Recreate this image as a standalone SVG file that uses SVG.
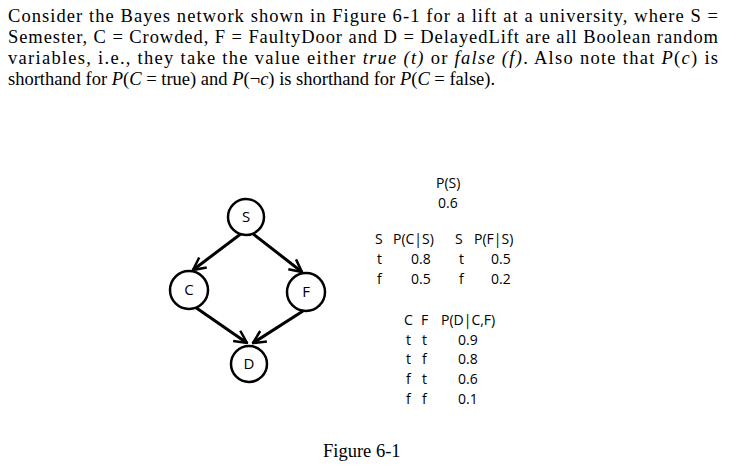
<svg xmlns="http://www.w3.org/2000/svg" width="737" height="469" viewBox="0 0 737 469">
<defs>
<style>
.p{font-family:"Liberation Serif",serif;font-size:18.5px;fill:#000}
.i{font-style:italic}
.s{font-family:"Open Sans","Liberation Sans",sans-serif;font-size:14px;fill:#000}
.n{font-family:"Open Sans","Liberation Sans",sans-serif;font-size:15px;fill:#000;text-anchor:middle}
circle{fill:#fff;stroke:#000;stroke-width:2.5}
.e{stroke:#000;stroke-width:3;fill:none;marker-end:url(#a)}
</style>
<marker id="a" viewBox="0 0 12 12" refX="11" refY="6" markerWidth="5" markerHeight="5" orient="auto" markerUnits="strokeWidth">
<path d="M1,1 L11,6 L1,11" fill="none" stroke="#000" stroke-width="2"/>
</marker>
</defs>
<rect width="737" height="469" fill="#fff"/>
<text class="p" x="8" y="22" textLength="710" lengthAdjust="spacing">Consider the Bayes network shown in Figure 6-1 for a lift at a university, where S =</text>
<text class="p" x="8" y="43" textLength="710" lengthAdjust="spacing">Semester, C = Crowded, F = FaultyDoor and D = DelayedLift are all Boolean random</text>
<text class="p" x="8" y="64" textLength="710" lengthAdjust="spacing">variables, i.e., they take the value either <tspan class="i">true (t)</tspan> or <tspan class="i">false (f)</tspan>. Also note that <tspan class="i">P</tspan>(<tspan class="i">c</tspan>) is</text>
<text class="p" x="8" y="85">shorthand for <tspan class="i">P</tspan>(<tspan class="i">C</tspan> = true) and <tspan class="i">P</tspan>(¬<tspan class="i">c</tspan>) is shorthand for <tspan class="i">P</tspan>(<tspan class="i">C</tspan> = false).</text>
<g id="edges">
<line class="e" x1="242" y1="233" x2="193" y2="270"/>
<line class="e" x1="252" y1="233" x2="302" y2="272"/>
<line class="e" x1="195" y1="307" x2="247" y2="343"/>
<line class="e" x1="303" y1="311" x2="253" y2="343"/>
</g>
<g id="S"><circle cx="246" cy="217" r="18"/><text class="n" x="246" y="222">S</text></g>
<g id="C"><circle cx="189" cy="290" r="19"/><text class="n" x="189" y="295">C</text></g>
<g id="F"><circle cx="306" cy="292" r="19"/><text class="n" x="306" y="297">F</text></g>
<g id="D"><circle cx="249" cy="364" r="18"/><text class="n" x="249" y="369">D</text></g>
<g id="tables">
<text class="s" x="436" y="188">P(S)</text>
<text class="s" x="438" y="208">0.6</text>
<text class="s" x="375" y="244">S</text><text class="s" x="393" y="244">P(C|S)</text>
<text class="s" x="455" y="244">S</text><text class="s" x="474" y="244">P(F|S)</text>
<text class="s" x="377" y="264">t</text><text class="s" x="411" y="264">0.8</text><text class="s" x="459" y="264">t</text><text class="s" x="491" y="264">0.5</text>
<text class="s" x="377" y="284">f</text><text class="s" x="411" y="284">0.5</text><text class="s" x="459" y="284">f</text><text class="s" x="491" y="284">0.2</text>
<text class="s" x="404" y="325">C</text><text class="s" x="421" y="325">F</text><text class="s" x="441" y="325">P(D|C,F)</text>
<text class="s" x="406" y="345">t</text><text class="s" x="422" y="345">t</text><text class="s" x="458" y="345">0.9</text>
<text class="s" x="406" y="364">t</text><text class="s" x="422" y="364">f</text><text class="s" x="458" y="364">0.8</text>
<text class="s" x="406" y="384">f</text><text class="s" x="422" y="384">t</text><text class="s" x="458" y="384">0.6</text>
<text class="s" x="406" y="404">f</text><text class="s" x="422" y="404">f</text><text class="s" x="458" y="404">0.1</text>
</g>
<text class="p" x="323" y="457">Figure 6-1</text>
</svg>
